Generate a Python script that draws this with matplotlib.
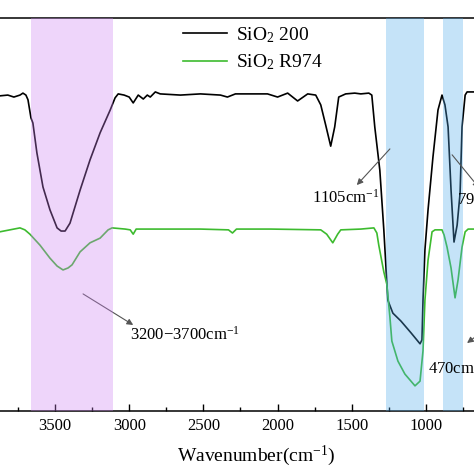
import matplotlib
matplotlib.use('Agg')
import matplotlib.pyplot as plt
from matplotlib.ticker import MultipleLocator

plt.rcParams.update({
    'font.family': 'Liberation Serif',
    'mathtext.fontset': 'custom',
    'mathtext.rm': 'Liberation Serif',
    'mathtext.it': 'Liberation Serif:italic',
})

# ── data ──────────────────────────────────────────────────────────────────
wn_200 = [3872, 3818, 3777, 3736, 3716, 3696, 3682, 3662, 3649, 3622, 3581, 3534,
          3486, 3459, 3432, 3399, 3331, 3264, 3196, 3128, 3095, 3074, 3034, 3000,
          2973, 2939, 2905, 2878, 2858, 2824, 2791, 2655, 2520, 2385, 2338, 2284,
          2068, 2000, 1932, 1865, 1797, 1743, 1709, 1676, 1642, 1615, 1588, 1541,
          1480, 1439, 1385, 1365, 1345, 1311, 1284, 1257, 1223, 1169, 1101, 1040,
          1027, 1020, 1007, 986, 953, 919, 892, 872, 851, 831, 811, 790, 770, 757,
          736, 723, 669, 640]
t_200 = [80.2, 80.4, 79.9, 80.4, 80.9, 80.4, 79.2, 74.6, 73.3, 65.7, 57.0, 51.2,
         46.6, 45.8, 45.8, 47.8, 56.2, 63.9, 70.8, 76.6, 79.7, 80.7, 80.4, 79.9,
         78.4, 80.4, 79.4, 80.4, 79.9, 81.2, 80.7, 80.4, 80.7, 80.4, 79.9, 80.7,
         80.7, 79.9, 80.9, 78.9, 80.7, 80.4, 77.9, 72.8, 67.4, 72.3, 79.9, 80.7,
         80.9, 80.7, 80.9, 80.4, 72.3, 61.3, 46.1, 28.2, 24.9, 22.9, 19.9, 17.1,
         18.1, 28.2, 41.0, 51.2, 64.6, 76.6, 80.4, 77.9, 72.3, 56.2, 43.0, 47.3,
         55.5, 72.3, 80.4, 81.2, 81.2, 81.2]

wn_r974 = [3872, 3804, 3736, 3703, 3669, 3601, 3534, 3486, 3446, 3412, 3385, 3331,
           3264, 3196, 3142, 3115, 3027, 2993, 2973, 2953, 2791, 2520, 2331, 2304,
           2277, 2047, 1709, 1669, 1628, 1595, 1574, 1439, 1351, 1331, 1318, 1284,
           1264, 1243, 1230, 1189, 1142, 1074, 1040, 1020, 1007, 986, 959, 939, 892,
           878, 858, 831, 804, 784, 757, 736, 716, 669, 640]
t_r974 = [45.6, 46.1, 46.6, 46.1, 45.0, 42.2, 38.9, 36.9, 35.9, 36.4, 37.2, 40.5,
          42.8, 44.0, 46.1, 46.6, 46.3, 46.1, 45.0, 46.3, 46.3, 46.3, 46.1, 45.3,
          46.3, 46.3, 46.1, 45.0, 42.8, 45.0, 46.1, 46.3, 46.6, 45.3, 42.2, 35.4,
          32.3, 23.9, 17.8, 12.7, 9.4, 6.4, 7.6, 15.3, 28.2, 38.4, 45.6, 46.1, 46.1,
          44.8, 41.7, 36.4, 28.8, 33.3, 41.7, 45.6, 46.3, 46.3, 46.3]

bands = [(3660, 3110), (1270, 1013), (885, 750)]
band_colors = ['#CC80F0', '#50AAEB', '#50AAEB']

# ── plot ──────────────────────────────────────────────────────────────────
fig = plt.figure(figsize=(4.74, 4.74), dpi=100)
ax = fig.add_axes([-0.0405, 0.1329, 1.127, 0.829])

ax.plot(wn_200, t_200, color='black', lw=1.2, label='SiO$_2$ 200')
ax.plot(wn_r974, t_r974, color='#3DBB2F', lw=1.2, label='SiO$_2$ R974')

for (a, b), c in zip(bands, band_colors):
    ax.axvspan(a, b, color=c, alpha=0.33, lw=0, zorder=3)

arrow = dict(arrowstyle='-|>', color='#555555', lw=0.8, mutation_scale=9,
             shrinkA=0, shrinkB=0)
ax.annotate('', xy=(2973, 21.9), xytext=(3311, 29.8), arrowprops=arrow, zorder=2)
ax.text(2993, 19.3, '3200$-$3700cm$^{-1}$', fontsize=12, va='center')
ax.annotate('', xy=(1466, 57.5), xytext=(1243, 66.7), arrowprops=arrow, zorder=4)
ax.text(1770, 54.2, '1105cm$^{-1}$', fontsize=12, va='center')
ax.annotate('', xy=(642, 56.8), xytext=(824, 65.2), arrowprops=arrow, zorder=4)
ax.text(790, 53.7, '790cm$^{-1}$', fontsize=12, va='center')
ax.annotate('', xy=(723, 17.3), xytext=(561, 21.9), arrowprops=arrow, zorder=4)
ax.text(986, 10.7, '470cm$^{-1}$', fontsize=12, va='center')

ax.set_xlim(4000, 400)
ax.set_ylim(0, 100)
ax.xaxis.set_major_locator(MultipleLocator(500))
ax.xaxis.set_minor_locator(MultipleLocator(250))
ax.tick_params(axis='x', which='major', direction='in', length=5, width=1, labelsize=12, pad=5)
ax.tick_params(axis='x', which='minor', direction='in', length=3, width=1)
ax.set_yticks([])
for s in ax.spines.values():
    s.set_linewidth(1.1)

ax.set_xlabel('Wavenumber(cm$^{-1}$)', fontsize=14, labelpad=3)
ax.xaxis.set_label_coords(0.516, -0.083)

ax.legend(loc='center left', bbox_to_anchor=(0.365, 0.897), bbox_transform=fig.transFigure,
          frameon=False, fontsize=14, handlelength=2.3, handletextpad=0.45,
          borderpad=0, labelspacing=0.4)

fig.savefig('out.png', dpi=100)
